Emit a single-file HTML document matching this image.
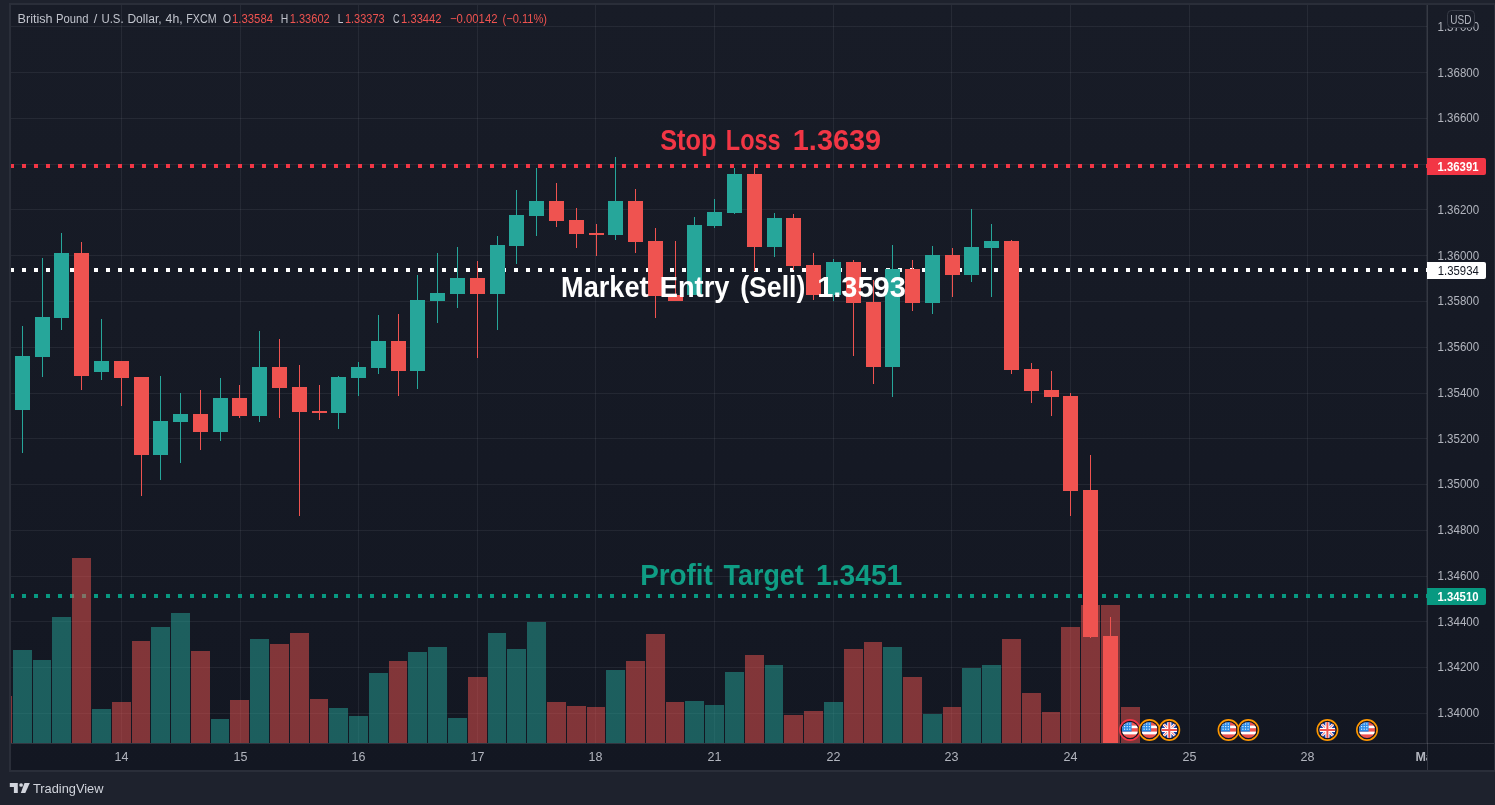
<!DOCTYPE html>
<html lang="en">
<head>
<meta charset="utf-8">
<title>GBPUSD 4h - TradingView chart</title>
<style>
html,body{margin:0;padding:0;background:#1e222d;}
body{width:1495px;height:805px;overflow:hidden;}
svg{display:block;}
text{font-family:"Liberation Sans", "DejaVu Sans", sans-serif;}
.ax{font-size:12.5px;fill:#b2b5be;}
.ttl{font-size:12.5px;fill:#c1c4cd;}
.val{font-size:12.5px;fill:#ef5350;}
.big{font-size:29.3px;font-weight:bold;}
</style>
</head>
<body>
<svg width="1495" height="805" viewBox="0 0 1495 805">
<defs>
<linearGradient id="bg" x1="0" y1="0" x2="0" y2="1">
<stop offset="0" stop-color="#181c27"/><stop offset="1" stop-color="#131722"/>
</linearGradient>
<clipPath id="pane"><rect x="11" y="5" width="1416" height="738"/></clipPath>
<clipPath id="taxis"><rect x="11" y="744" width="1416" height="26"/></clipPath>
<clipPath id="flagc"><circle cx="0" cy="0" r="8"/></clipPath>
<g id="us">
<circle cx="0" cy="0" r="9.6" fill="#131722"/>
<g clip-path="url(#flagc)">
<rect x="-8" y="-8" width="16" height="16" fill="#ef5350"/>
<rect x="-8" y="-4.4" width="16" height="2.6" fill="#fff"/>
<rect x="-8" y="1.6" width="16" height="2.8" fill="#fff"/>
<rect x="-8" y="-8" width="9.6" height="9.6" fill="#2a8ce8"/>
<g fill="#e3f2fd">
<rect x="-6" y="-6.6" width="1.2" height="1.2"/><rect x="-3.4" y="-6.6" width="1.2" height="1.2"/><rect x="-0.8" y="-6.6" width="1.2" height="1.2"/>
<rect x="-6" y="-4" width="1.2" height="1.2"/><rect x="-3.4" y="-4" width="1.2" height="1.2"/><rect x="-0.8" y="-4" width="1.2" height="1.2"/>
<rect x="-6" y="-1.4" width="1.2" height="1.2"/><rect x="-3.4" y="-1.4" width="1.2" height="1.2"/><rect x="-0.8" y="-1.4" width="1.2" height="1.2"/>
</g>
</g>
</g>
<g id="uk">
<circle cx="0" cy="0" r="9.6" fill="#131722"/>
<g clip-path="url(#flagc)">
<rect x="-8" y="-8" width="16" height="16" fill="#1a3fa8"/>
<path d="M-8-8L8 8M8-8L-8 8" stroke="#fff" stroke-width="2.8"/>
<path d="M-8-8L8 8M8-8L-8 8" stroke="#ef5350" stroke-width="1"/>
<path d="M0-8V8M-8 0H8" stroke="#fff" stroke-width="4.2"/>
<path d="M0-8V8M-8 0H8" stroke="#ef5350" stroke-width="2"/>
</g>
</g>
</defs>

<rect x="0" y="0" width="1495" height="805" fill="#1e222d"/>
<rect x="9" y="3" width="1488" height="769" fill="#2a2e39"/>
<rect x="11" y="5" width="1483" height="765" fill="url(#bg)"/>
<g shape-rendering="crispEdges" fill="#f0f3fa" fill-opacity="0.065">
<rect x="11" y="26" width="1416" height="1"/>
<rect x="11" y="72" width="1416" height="1"/>
<rect x="11" y="118" width="1416" height="1"/>
<rect x="11" y="164" width="1416" height="1"/>
<rect x="11" y="209" width="1416" height="1"/>
<rect x="11" y="255" width="1416" height="1"/>
<rect x="11" y="301" width="1416" height="1"/>
<rect x="11" y="347" width="1416" height="1"/>
<rect x="11" y="393" width="1416" height="1"/>
<rect x="11" y="438" width="1416" height="1"/>
<rect x="11" y="484" width="1416" height="1"/>
<rect x="11" y="530" width="1416" height="1"/>
<rect x="11" y="576" width="1416" height="1"/>
<rect x="11" y="621" width="1416" height="1"/>
<rect x="11" y="667" width="1416" height="1"/>
<rect x="11" y="713" width="1416" height="1"/>
<rect x="121" y="5" width="1" height="738"/>
<rect x="240" y="5" width="1" height="738"/>
<rect x="358" y="5" width="1" height="738"/>
<rect x="477" y="5" width="1" height="738"/>
<rect x="595" y="5" width="1" height="738"/>
<rect x="714" y="5" width="1" height="738"/>
<rect x="833" y="5" width="1" height="738"/>
<rect x="951" y="5" width="1" height="738"/>
<rect x="1070" y="5" width="1" height="738"/>
<rect x="1189" y="5" width="1" height="738"/>
<rect x="1307" y="5" width="1" height="738"/>
<rect x="1426" y="5" width="1" height="738"/>
</g>
<g clip-path="url(#pane)" shape-rendering="crispEdges" stroke-width="4" stroke-dasharray="4 8" fill="none">
<path d="M10 166H1432" stroke="#f23645"/>
<path d="M10 270H1432" stroke="#ffffff"/>
<path d="M10 596H1432" stroke="#089981"/>
</g>
<g clip-path="url(#pane)" shape-rendering="crispEdges" fill-opacity="0.5">
<rect x="9" y="696" width="3" height="47" fill="#ef5350"/>
<rect x="13" y="650" width="19" height="93" fill="#26a69a"/>
<rect x="33" y="660" width="18" height="83" fill="#26a69a"/>
<rect x="52" y="617" width="19" height="126" fill="#26a69a"/>
<rect x="72" y="558" width="19" height="185" fill="#ef5350"/>
<rect x="92" y="709" width="19" height="34" fill="#26a69a"/>
<rect x="112" y="702" width="19" height="41" fill="#ef5350"/>
<rect x="132" y="641" width="18" height="102" fill="#ef5350"/>
<rect x="151" y="627" width="19" height="116" fill="#26a69a"/>
<rect x="171" y="613" width="19" height="130" fill="#26a69a"/>
<rect x="191" y="651" width="19" height="92" fill="#ef5350"/>
<rect x="211" y="719" width="18" height="24" fill="#26a69a"/>
<rect x="230" y="700" width="19" height="43" fill="#ef5350"/>
<rect x="250" y="639" width="19" height="104" fill="#26a69a"/>
<rect x="270" y="644" width="19" height="99" fill="#ef5350"/>
<rect x="290" y="633" width="19" height="110" fill="#ef5350"/>
<rect x="310" y="699" width="18" height="44" fill="#ef5350"/>
<rect x="329" y="708" width="19" height="35" fill="#26a69a"/>
<rect x="349" y="716" width="19" height="27" fill="#26a69a"/>
<rect x="369" y="673" width="19" height="70" fill="#26a69a"/>
<rect x="389" y="661" width="18" height="82" fill="#ef5350"/>
<rect x="408" y="652" width="19" height="91" fill="#26a69a"/>
<rect x="428" y="647" width="19" height="96" fill="#26a69a"/>
<rect x="448" y="718" width="19" height="25" fill="#26a69a"/>
<rect x="468" y="677" width="19" height="66" fill="#ef5350"/>
<rect x="488" y="633" width="18" height="110" fill="#26a69a"/>
<rect x="507" y="649" width="19" height="94" fill="#26a69a"/>
<rect x="527" y="622" width="19" height="121" fill="#26a69a"/>
<rect x="547" y="702" width="19" height="41" fill="#ef5350"/>
<rect x="567" y="706" width="19" height="37" fill="#ef5350"/>
<rect x="587" y="707" width="18" height="36" fill="#ef5350"/>
<rect x="606" y="670" width="19" height="73" fill="#26a69a"/>
<rect x="626" y="661" width="19" height="82" fill="#ef5350"/>
<rect x="646" y="634" width="19" height="109" fill="#ef5350"/>
<rect x="666" y="702" width="18" height="41" fill="#ef5350"/>
<rect x="685" y="701" width="19" height="42" fill="#26a69a"/>
<rect x="705" y="705" width="19" height="38" fill="#26a69a"/>
<rect x="725" y="672" width="19" height="71" fill="#26a69a"/>
<rect x="745" y="655" width="19" height="88" fill="#ef5350"/>
<rect x="765" y="665" width="18" height="78" fill="#26a69a"/>
<rect x="784" y="715" width="19" height="28" fill="#ef5350"/>
<rect x="804" y="711" width="19" height="32" fill="#ef5350"/>
<rect x="824" y="702" width="19" height="41" fill="#26a69a"/>
<rect x="844" y="649" width="19" height="94" fill="#ef5350"/>
<rect x="864" y="642" width="18" height="101" fill="#ef5350"/>
<rect x="883" y="647" width="19" height="96" fill="#26a69a"/>
<rect x="903" y="677" width="19" height="66" fill="#ef5350"/>
<rect x="923" y="714" width="19" height="29" fill="#26a69a"/>
<rect x="943" y="707" width="18" height="36" fill="#ef5350"/>
<rect x="962" y="668" width="19" height="75" fill="#26a69a"/>
<rect x="982" y="665" width="19" height="78" fill="#26a69a"/>
<rect x="1002" y="639" width="19" height="104" fill="#ef5350"/>
<rect x="1022" y="693" width="19" height="50" fill="#ef5350"/>
<rect x="1042" y="712" width="18" height="31" fill="#ef5350"/>
<rect x="1061" y="627" width="19" height="116" fill="#ef5350"/>
<rect x="1081" y="605" width="19" height="138" fill="#ef5350"/>
<rect x="1101" y="605" width="19" height="138" fill="#ef5350"/>
<rect x="1121" y="707" width="19" height="36" fill="#ef5350"/>
</g>
<g clip-path="url(#pane)" shape-rendering="crispEdges">
<rect x="22" y="326" width="1" height="127" fill="#26a69a"/>
<rect x="15" y="356" width="15" height="54" fill="#26a69a"/>
<rect x="42" y="258" width="1" height="119" fill="#26a69a"/>
<rect x="35" y="317" width="15" height="40" fill="#26a69a"/>
<rect x="61" y="233" width="1" height="97" fill="#26a69a"/>
<rect x="54" y="253" width="15" height="65" fill="#26a69a"/>
<rect x="81" y="242" width="1" height="148" fill="#ef5350"/>
<rect x="74" y="253" width="15" height="123" fill="#ef5350"/>
<rect x="101" y="319" width="1" height="61" fill="#26a69a"/>
<rect x="94" y="361" width="15" height="11" fill="#26a69a"/>
<rect x="121" y="361" width="1" height="45" fill="#ef5350"/>
<rect x="114" y="361" width="15" height="17" fill="#ef5350"/>
<rect x="141" y="377" width="1" height="119" fill="#ef5350"/>
<rect x="134" y="377" width="15" height="78" fill="#ef5350"/>
<rect x="160" y="376" width="1" height="104" fill="#26a69a"/>
<rect x="153" y="421" width="15" height="34" fill="#26a69a"/>
<rect x="180" y="393" width="1" height="70" fill="#26a69a"/>
<rect x="173" y="414" width="15" height="8" fill="#26a69a"/>
<rect x="200" y="390" width="1" height="60" fill="#ef5350"/>
<rect x="193" y="414" width="15" height="18" fill="#ef5350"/>
<rect x="220" y="378" width="1" height="63" fill="#26a69a"/>
<rect x="213" y="398" width="15" height="34" fill="#26a69a"/>
<rect x="239" y="385" width="1" height="33" fill="#ef5350"/>
<rect x="232" y="398" width="15" height="18" fill="#ef5350"/>
<rect x="259" y="331" width="1" height="91" fill="#26a69a"/>
<rect x="252" y="367" width="15" height="49" fill="#26a69a"/>
<rect x="279" y="339" width="1" height="79" fill="#ef5350"/>
<rect x="272" y="367" width="15" height="21" fill="#ef5350"/>
<rect x="299" y="365" width="1" height="151" fill="#ef5350"/>
<rect x="292" y="387" width="15" height="25" fill="#ef5350"/>
<rect x="319" y="385" width="1" height="35" fill="#ef5350"/>
<rect x="312" y="411" width="15" height="2" fill="#ef5350"/>
<rect x="338" y="376" width="1" height="53" fill="#26a69a"/>
<rect x="331" y="377" width="15" height="36" fill="#26a69a"/>
<rect x="358" y="362" width="1" height="34" fill="#26a69a"/>
<rect x="351" y="367" width="15" height="11" fill="#26a69a"/>
<rect x="378" y="315" width="1" height="59" fill="#26a69a"/>
<rect x="371" y="341" width="15" height="27" fill="#26a69a"/>
<rect x="398" y="314" width="1" height="82" fill="#ef5350"/>
<rect x="391" y="341" width="15" height="30" fill="#ef5350"/>
<rect x="417" y="275" width="1" height="114" fill="#26a69a"/>
<rect x="410" y="300" width="15" height="71" fill="#26a69a"/>
<rect x="437" y="253" width="1" height="70" fill="#26a69a"/>
<rect x="430" y="293" width="15" height="8" fill="#26a69a"/>
<rect x="457" y="247" width="1" height="61" fill="#26a69a"/>
<rect x="450" y="278" width="15" height="16" fill="#26a69a"/>
<rect x="477" y="261" width="1" height="97" fill="#ef5350"/>
<rect x="470" y="278" width="15" height="16" fill="#ef5350"/>
<rect x="497" y="236" width="1" height="94" fill="#26a69a"/>
<rect x="490" y="245" width="15" height="49" fill="#26a69a"/>
<rect x="516" y="190" width="1" height="74" fill="#26a69a"/>
<rect x="509" y="215" width="15" height="31" fill="#26a69a"/>
<rect x="536" y="168" width="1" height="68" fill="#26a69a"/>
<rect x="529" y="201" width="15" height="15" fill="#26a69a"/>
<rect x="556" y="183" width="1" height="44" fill="#ef5350"/>
<rect x="549" y="201" width="15" height="20" fill="#ef5350"/>
<rect x="576" y="208" width="1" height="40" fill="#ef5350"/>
<rect x="569" y="220" width="15" height="14" fill="#ef5350"/>
<rect x="596" y="224" width="1" height="32" fill="#ef5350"/>
<rect x="589" y="233" width="15" height="2" fill="#ef5350"/>
<rect x="615" y="157" width="1" height="83" fill="#26a69a"/>
<rect x="608" y="201" width="15" height="34" fill="#26a69a"/>
<rect x="635" y="189" width="1" height="64" fill="#ef5350"/>
<rect x="628" y="201" width="15" height="41" fill="#ef5350"/>
<rect x="655" y="228" width="1" height="90" fill="#ef5350"/>
<rect x="648" y="241" width="15" height="55" fill="#ef5350"/>
<rect x="675" y="241" width="1" height="60" fill="#ef5350"/>
<rect x="668" y="295" width="15" height="6" fill="#ef5350"/>
<rect x="694" y="217" width="1" height="78" fill="#26a69a"/>
<rect x="687" y="225" width="15" height="70" fill="#26a69a"/>
<rect x="714" y="199" width="1" height="29" fill="#26a69a"/>
<rect x="707" y="212" width="15" height="14" fill="#26a69a"/>
<rect x="734" y="168" width="1" height="46" fill="#26a69a"/>
<rect x="727" y="174" width="15" height="39" fill="#26a69a"/>
<rect x="754" y="167" width="1" height="104" fill="#ef5350"/>
<rect x="747" y="174" width="15" height="73" fill="#ef5350"/>
<rect x="774" y="213" width="1" height="44" fill="#26a69a"/>
<rect x="767" y="218" width="15" height="29" fill="#26a69a"/>
<rect x="793" y="214" width="1" height="56" fill="#ef5350"/>
<rect x="786" y="218" width="15" height="48" fill="#ef5350"/>
<rect x="813" y="253" width="1" height="47" fill="#ef5350"/>
<rect x="806" y="265" width="15" height="30" fill="#ef5350"/>
<rect x="833" y="259" width="1" height="42" fill="#26a69a"/>
<rect x="826" y="262" width="15" height="33" fill="#26a69a"/>
<rect x="853" y="260" width="1" height="96" fill="#ef5350"/>
<rect x="846" y="262" width="15" height="41" fill="#ef5350"/>
<rect x="873" y="280" width="1" height="104" fill="#ef5350"/>
<rect x="866" y="302" width="15" height="65" fill="#ef5350"/>
<rect x="892" y="245" width="1" height="152" fill="#26a69a"/>
<rect x="885" y="269" width="15" height="98" fill="#26a69a"/>
<rect x="912" y="260" width="1" height="51" fill="#ef5350"/>
<rect x="905" y="269" width="15" height="34" fill="#ef5350"/>
<rect x="932" y="246" width="1" height="68" fill="#26a69a"/>
<rect x="925" y="255" width="15" height="48" fill="#26a69a"/>
<rect x="952" y="248" width="1" height="49" fill="#ef5350"/>
<rect x="945" y="255" width="15" height="20" fill="#ef5350"/>
<rect x="971" y="209" width="1" height="73" fill="#26a69a"/>
<rect x="964" y="247" width="15" height="28" fill="#26a69a"/>
<rect x="991" y="224" width="1" height="73" fill="#26a69a"/>
<rect x="984" y="241" width="15" height="7" fill="#26a69a"/>
<rect x="1011" y="240" width="1" height="134" fill="#ef5350"/>
<rect x="1004" y="241" width="15" height="129" fill="#ef5350"/>
<rect x="1031" y="363" width="1" height="40" fill="#ef5350"/>
<rect x="1024" y="369" width="15" height="22" fill="#ef5350"/>
<rect x="1051" y="371" width="1" height="45" fill="#ef5350"/>
<rect x="1044" y="390" width="15" height="7" fill="#ef5350"/>
<rect x="1070" y="393" width="1" height="123" fill="#ef5350"/>
<rect x="1063" y="396" width="15" height="95" fill="#ef5350"/>
<rect x="1090" y="455" width="1" height="183" fill="#ef5350"/>
<rect x="1083" y="490" width="15" height="147" fill="#ef5350"/>
<rect x="1110" y="617" width="1" height="126" fill="#ef5350"/>
<rect x="1103" y="636" width="15" height="107" fill="#ef5350"/>
</g>
<g transform="translate(1130 730)"><use href="#us"/><circle cx="0" cy="0" r="10.15" fill="none" stroke="#f23645" stroke-width="1.6"/></g>
<g transform="translate(1149.5 730)"><use href="#us"/><circle cx="0" cy="0" r="10.15" fill="none" stroke="#ff9800" stroke-width="1.6"/></g>
<g transform="translate(1169.3 730)"><use href="#uk"/><circle cx="0" cy="0" r="10.15" fill="none" stroke="#ff9800" stroke-width="1.6"/></g>
<g transform="translate(1228.5 730)"><use href="#us"/><circle cx="0" cy="0" r="10.15" fill="none" stroke="#ff9800" stroke-width="1.6"/></g>
<g transform="translate(1248.3 730)"><use href="#us"/><circle cx="0" cy="0" r="10.15" fill="none" stroke="#ff9800" stroke-width="1.6"/></g>
<g transform="translate(1327.4 730)"><use href="#uk"/><circle cx="0" cy="0" r="10.15" fill="none" stroke="#ff9800" stroke-width="1.6"/></g>
<g transform="translate(1367 730)"><use href="#us"/><circle cx="0" cy="0" r="10.15" fill="none" stroke="#ff9800" stroke-width="1.6"/></g>
<text class="big" y="150" fill="#f23645"><tspan x="660.2" textLength="56.2" lengthAdjust="spacingAndGlyphs">Stop</tspan> <tspan x="725.8" textLength="54.8" lengthAdjust="spacingAndGlyphs">Loss</tspan> <tspan x="792.8" textLength="88.4" lengthAdjust="spacingAndGlyphs">1.3639</tspan></text>
<text class="big" y="297" fill="#ffffff"><tspan x="561" textLength="87.6" lengthAdjust="spacingAndGlyphs">Market</tspan> <tspan x="659.8" textLength="69.6" lengthAdjust="spacingAndGlyphs">Entry</tspan> <tspan x="740.2" textLength="65.2" lengthAdjust="spacingAndGlyphs">(Sell)</tspan> <tspan x="817.2" textLength="88.6" lengthAdjust="spacingAndGlyphs">1.3593</tspan></text>
<text class="big" y="585" fill="#0f9d84"><tspan x="640.2" textLength="72.7" lengthAdjust="spacingAndGlyphs">Profit</tspan> <tspan x="723.6" textLength="80.1" lengthAdjust="spacingAndGlyphs">Target</tspan> <tspan x="816" textLength="86.3" lengthAdjust="spacingAndGlyphs">1.3451</tspan></text>
<text class="ttl" y="23"><tspan x="17.6" textLength="35.0" lengthAdjust="spacingAndGlyphs">British</tspan> <tspan x="55.9" textLength="32.5" lengthAdjust="spacingAndGlyphs">Pound</tspan> <tspan x="93.7">/</tspan> <tspan x="101.5" textLength="22.1" lengthAdjust="spacingAndGlyphs">U.S.</tspan> <tspan x="127.4" textLength="34.2" lengthAdjust="spacingAndGlyphs">Dollar,</tspan> <tspan x="165.6" textLength="17.0" lengthAdjust="spacingAndGlyphs">4h,</tspan> <tspan x="186.3" textLength="30.3" lengthAdjust="spacingAndGlyphs">FXCM</tspan></text>
<text class="ttl" x="223" y="23" textLength="8" lengthAdjust="spacingAndGlyphs">O</text>
<text class="val" x="232" y="23" textLength="41" lengthAdjust="spacingAndGlyphs">1.33584</text>
<text class="ttl" x="280.7" y="23" textLength="7.5" lengthAdjust="spacingAndGlyphs">H</text>
<text class="val" x="289.7" y="23" textLength="40" lengthAdjust="spacingAndGlyphs">1.33602</text>
<text class="ttl" x="337.8" y="23" textLength="5.6" lengthAdjust="spacingAndGlyphs">L</text>
<text class="val" x="344.9" y="23" textLength="39.8" lengthAdjust="spacingAndGlyphs">1.33373</text>
<text class="ttl" x="393" y="23" textLength="6.6" lengthAdjust="spacingAndGlyphs">C</text>
<text class="val" x="401.1" y="23" textLength="40.4" lengthAdjust="spacingAndGlyphs">1.33442</text>
<text class="val" x="450" y="23" textLength="47.5" lengthAdjust="spacingAndGlyphs">−0.00142</text>
<text class="val" x="502.5" y="23" textLength="44.5" lengthAdjust="spacingAndGlyphs">(−0.11%)</text>
<g shape-rendering="crispEdges" fill="#f0f3fa" fill-opacity="0.14">
<rect x="1427" y="5" width="1" height="765"/>
<rect x="11" y="743" width="1483" height="1"/>
</g>
<text class="ax" x="1437.5" y="30.9" textLength="41.7" lengthAdjust="spacingAndGlyphs">1.37000</text>
<text class="ax" x="1437.5" y="76.6" textLength="41.7" lengthAdjust="spacingAndGlyphs">1.36800</text>
<text class="ax" x="1437.5" y="122.3" textLength="41.7" lengthAdjust="spacingAndGlyphs">1.36600</text>
<text class="ax" x="1437.5" y="168.1" textLength="41.7" lengthAdjust="spacingAndGlyphs">1.36400</text>
<text class="ax" x="1437.5" y="213.8" textLength="41.7" lengthAdjust="spacingAndGlyphs">1.36200</text>
<text class="ax" x="1437.5" y="259.6" textLength="41.7" lengthAdjust="spacingAndGlyphs">1.36000</text>
<text class="ax" x="1437.5" y="305.4" textLength="41.7" lengthAdjust="spacingAndGlyphs">1.35800</text>
<text class="ax" x="1437.5" y="351.1" textLength="41.7" lengthAdjust="spacingAndGlyphs">1.35600</text>
<text class="ax" x="1437.5" y="396.9" textLength="41.7" lengthAdjust="spacingAndGlyphs">1.35400</text>
<text class="ax" x="1437.5" y="442.6" textLength="41.7" lengthAdjust="spacingAndGlyphs">1.35200</text>
<text class="ax" x="1437.5" y="488.4" textLength="41.7" lengthAdjust="spacingAndGlyphs">1.35000</text>
<text class="ax" x="1437.5" y="534.1" textLength="41.7" lengthAdjust="spacingAndGlyphs">1.34800</text>
<text class="ax" x="1437.5" y="579.9" textLength="41.7" lengthAdjust="spacingAndGlyphs">1.34600</text>
<text class="ax" x="1437.5" y="625.6" textLength="41.7" lengthAdjust="spacingAndGlyphs">1.34400</text>
<text class="ax" x="1437.5" y="671.4" textLength="41.7" lengthAdjust="spacingAndGlyphs">1.34200</text>
<text class="ax" x="1437.5" y="717.1" textLength="41.7" lengthAdjust="spacingAndGlyphs">1.34000</text>
<rect x="1447.5" y="10.5" width="27" height="17" rx="4" fill="#181c27" stroke="#363a45"/>
<text x="1450.3" y="24" font-size="12.5" fill="#b2b5be" textLength="21.2" lengthAdjust="spacingAndGlyphs">USD</text>
<path d="M1427 158H1484a2 2 0 0 1 2 2V173a2 2 0 0 1-2 2H1427Z" fill="#f23645"/>
<text x="1437.5" y="171" font-size="12.5" font-weight="bold" fill="#ffffff" textLength="41" lengthAdjust="spacingAndGlyphs">1.36391</text>
<path d="M1427 262H1484a2 2 0 0 1 2 2V277a2 2 0 0 1-2 2H1427Z" fill="#ffffff"/>
<text x="1437.8" y="275" font-size="12.5" fill="#131722" textLength="41" lengthAdjust="spacingAndGlyphs">1.35934</text>
<path d="M1427 588H1484a2 2 0 0 1 2 2V603a2 2 0 0 1-2 2H1427Z" fill="#089981"/>
<text x="1437.5" y="601" font-size="12.5" font-weight="bold" fill="#ffffff" textLength="41" lengthAdjust="spacingAndGlyphs">1.34510</text>
<g clip-path="url(#taxis)">
<text class="ax" x="121.5" y="761" text-anchor="middle">14</text>
<text class="ax" x="240.5" y="761" text-anchor="middle">15</text>
<text class="ax" x="358.5" y="761" text-anchor="middle">16</text>
<text class="ax" x="477.5" y="761" text-anchor="middle">17</text>
<text class="ax" x="595.5" y="761" text-anchor="middle">18</text>
<text class="ax" x="714.5" y="761" text-anchor="middle">21</text>
<text class="ax" x="833.5" y="761" text-anchor="middle">22</text>
<text class="ax" x="951.5" y="761" text-anchor="middle">23</text>
<text class="ax" x="1070.5" y="761" text-anchor="middle">24</text>
<text class="ax" x="1189.5" y="761" text-anchor="middle">25</text>
<text class="ax" x="1307.5" y="761" text-anchor="middle">28</text>
<text class="ax" x="1426.5" y="761" text-anchor="middle" font-weight="bold">Mar</text>
</g>
<g fill="#d1d4dc">
<path d="M9.8 783H17.8V792.9H13.9V787H9.8Z"/>
<circle cx="21.1" cy="785" r="1.85"/>
<path d="M24.5 783H29.8L25.3 792.9H20.8Z"/>
</g>
<text x="33" y="793" font-size="13" fill="#d1d4dc" textLength="70.5" lengthAdjust="spacingAndGlyphs">TradingView</text>
</svg>
</body>
</html>
